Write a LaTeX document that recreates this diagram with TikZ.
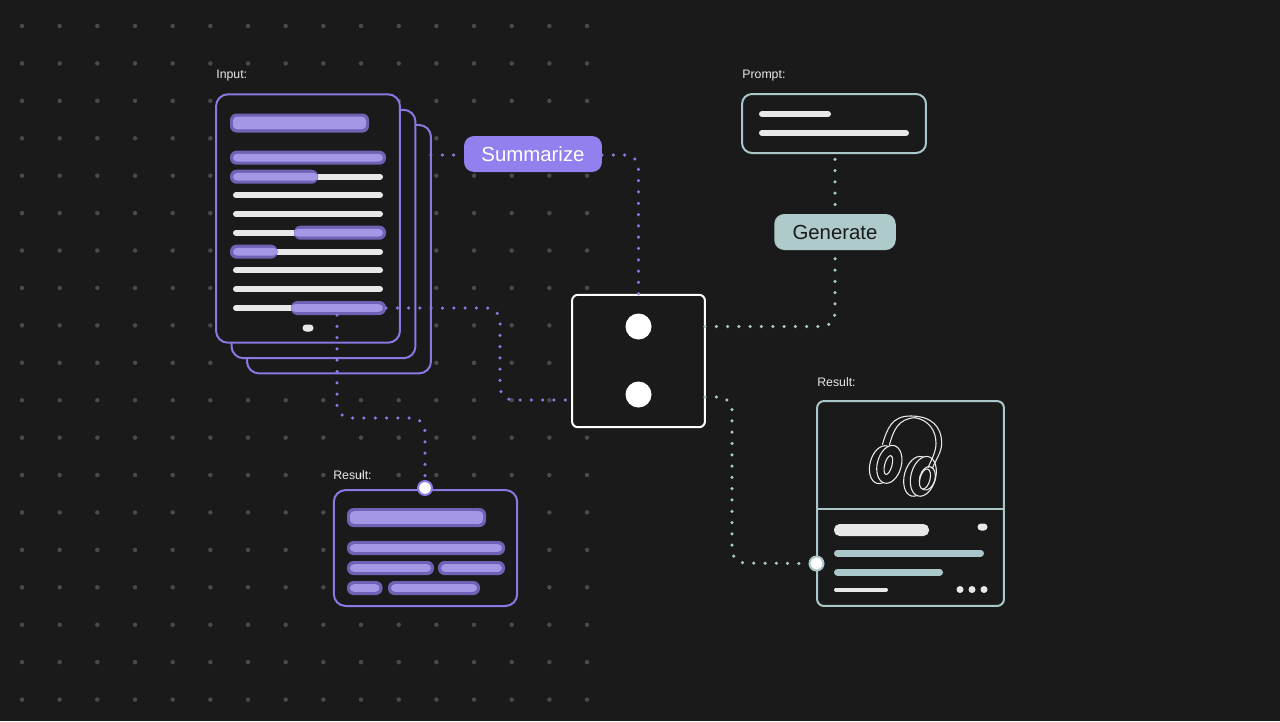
\documentclass[tikz,border=0pt]{standalone}
\usepackage{fontspec}
\setmainfont{Liberation Sans}
\usetikzlibrary{shapes}

\definecolor{bgdark}{HTML}{1A1A1A}
\definecolor{griddot}{HTML}{4A4A4A}
\definecolor{lilac}{HTML}{8A79E2}
\definecolor{lilacfill}{HTML}{9180ED}
\definecolor{hlout}{HTML}{7061B4}
\definecolor{hlin}{HTML}{A497E6}
\definecolor{teal}{HTML}{AAC8C9}
\definecolor{tealfill}{HTML}{AECACB}
\definecolor{paper}{HTML}{E8E8E8}

\tikzset{
  pagebox/.style={draw=lilac, fill=bgdark, line width=0.04cm, rounded corners=0.24cm, inner sep=0pt, outer sep=0pt, minimum width=3.68cm, minimum height=4.97cm},
  tealbox/.style={draw=teal, fill=bgdark, line width=0.04cm, rounded corners=0.2cm, inner sep=0pt, outer sep=0pt},
  action/.style={rounded corners=0.2cm, inner sep=0pt, outer sep=0pt, minimum height=0.72cm, font=\fontsize{11.6pt}{14pt}\selectfont},
  caption/.style={anchor=base west, inner sep=0pt, text=paper, font=\fontsize{7pt}{9pt}\selectfont},
  knob/.style={circle, fill=white, inner sep=0pt, outer sep=0pt, minimum size=0.52cm},
  port/.style={circle, fill=white, line width=0.04cm, inner sep=0pt, outer sep=0pt, minimum size=0.28cm},
  link/.style={line width=0.07cm, line cap=round, dash pattern=on 0pt off 0.226cm, rounded corners=0.26cm},
  textline/.style={paper, line width=0.12cm, line cap=round},
  earcup/.style={draw=paper, fill=bgdark, line width=0.022cm}
}

% outer x1, x2, inner x1, x2, y, half height
\newcommand{\hlbar}[6]{
  \fill[hlout, rounded corners=0.13cm] (#1,#5-#6) rectangle (#2,#5+#6);
  \fill[hlin, rounded corners=0.08cm] (#3,#5-#6+3.2) rectangle (#4,#5+#6-3.2);
}

\begin{document}
\begin{tikzpicture}[x=0.02cm, y=-0.02cm]
\useasboundingbox[fill=bgdark] (0,0) rectangle (1280,721);

% background dots
\foreach \i in {0,...,15}
  \foreach \j in {0,...,18}
    \fill[griddot] (22+37.67*\i,26+37.42*\j) circle (0.045cm);

% input pages
\node[pagebox] (PAGEC) at (339,249.2) {};
\node[pagebox] (PAGEB) at (323.5,234) {};
\node[pagebox] (PAGEA) at (308,218.5) {};
\node[caption] (INPUT) at (216,78) {Input:};

\foreach \y in {176.7,195.3,214,232.7,251.7,270.3,289,308}
  \draw[textline] (236,\y) -- (380,\y);
\hlbar{230}{369}{233}{366}{123}{9.5}
\hlbar{230}{386}{233}{383}{157.7}{7}
\hlbar{230}{318}{233}{318}{176.7}{7}
\hlbar{294}{386}{294}{383}{232.7}{7}
\hlbar{230}{277.5}{233}{277.5}{251.7}{7}
\hlbar{291}{386}{291}{383}{308}{7}
\fill[paper, rounded corners=0.07cm] (302.5,324.5) rectangle (313.5,331.5);

% actions and boxes
\node[action, fill=lilacfill, text=white, minimum width=2.76cm] (SUM) at (533,154) {Summarize};
\node[action, fill=tealfill, text=bgdark, minimum width=2.43cm] (GEN) at (835,232) {Generate};
\node[tealbox, minimum width=3.68cm, minimum height=1.18cm] (PROMPT) at (834,123.5) {};
\node[caption] (PROMPTCAP) at (742,78) {Prompt:};
\draw[textline] (762,114) -- (828,114);
\draw[textline] (762,133) -- (906,133);

\node[draw=white, fill=bgdark, line width=0.04cm, rounded corners=0.12cm, inner sep=0pt, outer sep=0pt, minimum width=2.66cm, minimum height=2.65cm] (MIX) at (638.5,361) {};
\node[knob] (KNOBA) at (638.5,326.5) {};
\node[knob] (KNOBB) at (638.5,394.5) {};

% text result
\node[pagebox, minimum width=3.67cm, minimum height=2.32cm] (RESTEXT) at (425.5,548) {};
\node[caption] (RESTEXTCAP) at (333,479.5) {Result:};
\hlbar{347}{486}{350}{483}{517.5}{9.5}
\hlbar{347}{505}{350}{502}{548}{7}
\hlbar{347}{434}{350}{431}{568}{7}
\hlbar{438}{505}{441}{502}{568}{7}
\hlbar{347}{382.5}{350}{379.5}{588}{7}
\hlbar{388}{480}{391}{477}{588}{7}

% audio result
\node[tealbox, rounded corners=0.14cm, minimum width=3.74cm, minimum height=4.1cm] (RESAUDIO) at (910.5,503.5) {};
\node[caption] (RESAUDIOCAP) at (817,386.5) {Result:};
\coordinate (SPLIT) at (0,509);
\draw[teal, line width=0.04cm] (RESAUDIO.west |- SPLIT) -- (RESAUDIO.east |- SPLIT);
\fill[paper, rounded corners=0.11cm] (834,524) rectangle (929,536);
\fill[paper, rounded corners=0.07cm] (977.5,523.5) rectangle (987.5,530.5);
\draw[teal, line width=0.14cm, line cap=round] (837.5,553) -- (980.5,553);
\draw[teal, line width=0.14cm, line cap=round] (837.5,572) -- (939.5,572);
\draw[paper, line width=0.08cm, line cap=round] (836,589.5) -- (886,589.5);
\foreach \x in {960,972,984}
  \fill[paper] (\x,589.5) circle (0.07cm);

% headphones
\begin{scope}[shift={(800,370)}, x=0.00667cm, y=-0.00667cm]
\draw[earcup, rotate around={-15:(246,284)}] (246,284) ellipse (36 and 58);
\draw[earcup, rotate around={-15:(268,283)}] (268,283) ellipse (36 and 58);
\draw[earcup, rotate around={-15:(265,285)}] (265,285) ellipse (11 and 29);
\draw[earcup, rotate around={-15:(350,319)}] (350,319) ellipse (37 and 61);
\draw[earcup, rotate around={-15:(370,319)}] (370,319) ellipse (37 and 61);
\draw[earcup, rotate around={-15:(382,325)}] (382,325) ellipse (23 and 36);
\draw[earcup, rotate around={-15:(375,327)}] (375,327) ellipse (15 and 31);
\draw[paper, line width=0.022cm] (247,224) .. controls (262,175) and (275,138) .. (332,138) .. controls (395,138) and (425,170) .. (425,220) .. controls (425,245) and (410,265) .. (396,297);
\draw[paper, line width=0.022cm] (268,226) .. controls (280,180) and (295,146) .. (345,143) .. controls (385,150) and (408,180) .. (408,220) .. controls (408,245) and (395,268) .. (384,293);
\end{scope}

% links
\coordinate (ROWSUM) at (0,155);
\coordinate (TURNA) at (500,308);
\coordinate (TURNB) at (500,400);
\coordinate (TURNC) at (337,418);
\coordinate (TURND) at (425,418);
\coordinate (TURNE) at (732,397);
\coordinate (TURNF) at (732,563);
\node[port, draw=lilac] (PORTTEXT) at (425,488) {};
\node[port, draw=teal] (PORTAUDIO) at (816.5,563.5) {};

\draw[link, lilac] (PAGEC.east |- ROWSUM) -- (SUM.west |- ROWSUM);
\draw[link, lilac] (SUM.east |- ROWSUM) -| (MIX.north);
\draw[link, lilac] (386,308) -- (TURNA) -- (TURNB) -- (MIX.west |- TURNB);
\draw[link, lilac] (TURNC |- 0,315) -- (TURNC) -- (TURND) -- (PORTTEXT.north);
\draw[link, teal, dash phase=0.1cm] (PROMPT.south -| GEN) -- (GEN.north);
\draw[link, teal] (MIX.east |- KNOBA) -| (GEN.south);
\draw[link, teal] (MIX.east |- TURNE) -- (TURNE) -- (TURNF) -- (PORTAUDIO.west);
\end{tikzpicture}
\end{document}
